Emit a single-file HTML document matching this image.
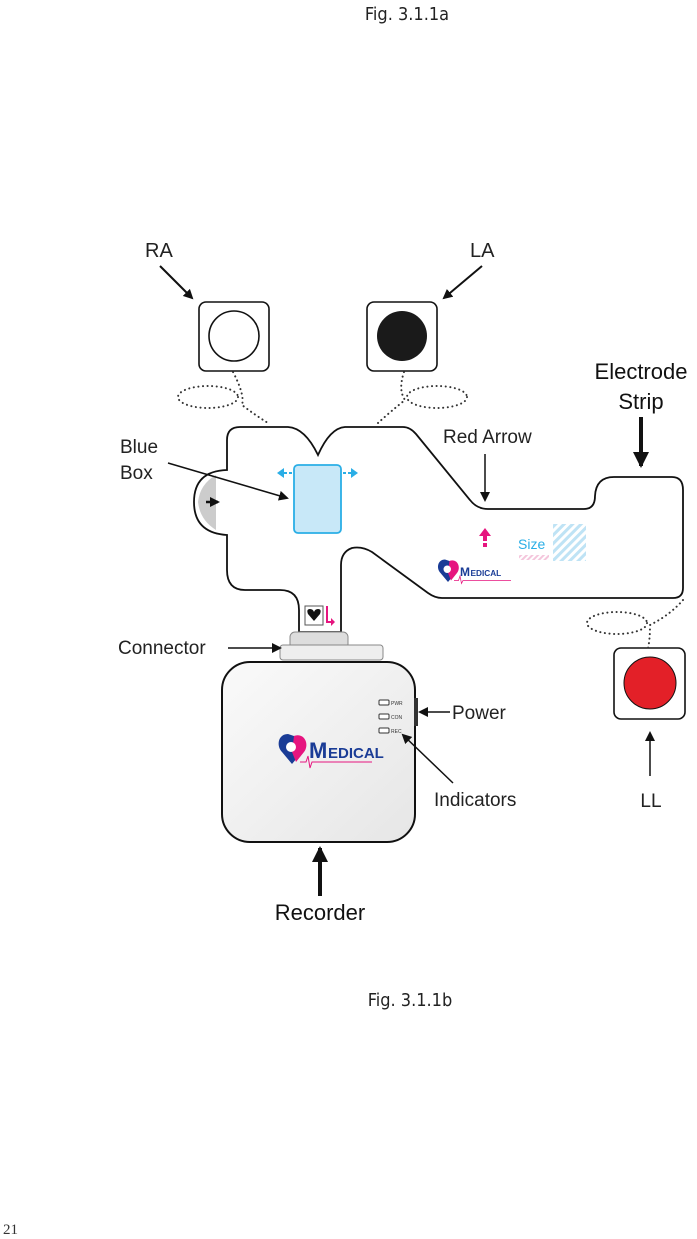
<!DOCTYPE html>
<html><head><meta charset="utf-8"><style>
html,body{margin:0;padding:0;background:#fff}
svg{display:block}
text{font-family:"Liberation Sans",sans-serif}
</style></head><body>
<svg width="697" height="1239" viewBox="0 0 697 1239" xmlns="http://www.w3.org/2000/svg">
<defs>
<marker id="ah" markerWidth="10" markerHeight="10" refX="8" refY="5" orient="auto" markerUnits="userSpaceOnUse"><path d="M0,0 L10,5 L0,10 Z" fill="#111"/></marker>
<marker id="ahb" markerWidth="16" markerHeight="16" refX="14" refY="8" orient="auto" markerUnits="userSpaceOnUse"><path d="M0,0 L16,8 L0,16 Z" fill="#111"/></marker>
<pattern id="hatch" width="6" height="6" patternUnits="userSpaceOnUse" patternTransform="rotate(45)"><rect width="3" height="6" fill="#bfe3f5"/></pattern>
<pattern id="hatchp" width="4" height="4" patternUnits="userSpaceOnUse" patternTransform="rotate(45)"><rect width="2" height="4" fill="#f4c6dc"/></pattern>
<linearGradient id="rg" x1="0" y1="0" x2="1" y2="1"><stop offset="0" stop-color="#fafafa"/><stop offset="1" stop-color="#e6e6e6"/></linearGradient>
</defs>
<text x="407" y="20" font-size="18" text-anchor="middle" fill="#222" style="font-family:'DejaVu Sans Condensed','Liberation Sans',sans-serif">Fig. 3.1.1a</text>
<text x="410" y="1006" font-size="18" text-anchor="middle" fill="#222" style="font-family:'DejaVu Sans Condensed','Liberation Sans',sans-serif">Fig. 3.1.1b</text>
<text x="3" y="1234" font-size="15" fill="#333" style="font-family:'Liberation Serif',serif">21</text>

<!-- electrodes -->
<rect x="199" y="302" width="70" height="69" rx="7" fill="#fff" stroke="#111" stroke-width="1.6"/>
<circle cx="234" cy="336" r="25" fill="#fff" stroke="#111" stroke-width="1.6"/>
<rect x="367" y="302" width="70" height="69" rx="7" fill="#fff" stroke="#111" stroke-width="1.6"/>
<circle cx="402" cy="336" r="25" fill="#1a1a1a"/>
<rect x="614" y="648" width="71" height="71" rx="7" fill="#fff" stroke="#111" stroke-width="1.6"/>
<circle cx="650" cy="683" r="26" fill="#e32028" stroke="#111" stroke-width="1"/>

<!-- dotted leads -->
<g fill="none" stroke="#333" stroke-width="2" stroke-dasharray="0.1 4.5" stroke-linecap="round">
<ellipse cx="208" cy="397" rx="30" ry="11"/>
<path d="M233,372 Q245,395 242,405 Q255,415 268,423"/>
<ellipse cx="437" cy="397" rx="30" ry="11"/>
<path d="M404,372 Q398,390 405,400 Q390,412 378,423"/>
<ellipse cx="617" cy="623" rx="30" ry="11"/>
<path d="M683,600 Q670,615 650,625 Q650,640 648,648"/>
</g>

<!-- strip outline -->
<path d="M227,440 Q227,427 240,427 L288,427 Q305,428 318,455 Q330,428 345,427 L403,427 Q410,427 416,434 L470,500 Q477,509 488,509 L584,509 Q595,509 595,496 Q596,477 614,477 L672,477 Q683,477 683,490 L683,588 Q683,598 673,598 L442,598 Q435,598 428,593 L372,552 Q362,546 352,548 Q341,552 341,565 L341,632 L299,632 L299,610 Q299,590 280,590 L245,590 Q227,590 227,570 L227,535 Q194,533 194,502 Q194,471 227,470 Z" fill="#fff" stroke="#111" stroke-width="1.8"/>
<path d="M216,475 L216,530 Q200,520 198,502 Q200,484 216,475 Z" fill="#ccc"/>
<line x1="206" y1="502" x2="218" y2="502" stroke="#111" stroke-width="2.5" marker-end="url(#ah)"/>

<!-- blue box -->
<rect x="294" y="465" width="47" height="68" rx="4" fill="#c8e8f8" stroke="#2aaee6" stroke-width="1.8"/>
<line x1="292" y1="473" x2="280" y2="473" stroke="#2aaee6" stroke-width="2" stroke-dasharray="3 2"/>
<path d="M277,473 L284,468 L284,478 Z" fill="#2aaee6"/>
<line x1="343" y1="473" x2="355" y2="473" stroke="#2aaee6" stroke-width="2" stroke-dasharray="3 2"/>
<path d="M358,473 L351,468 L351,478 Z" fill="#2aaee6"/>

<!-- pink arrow, size -->
<path d="M485,528 L479,536 L483,536 L483,541 L487,541 L487,536 L491,536 Z" fill="#e6157f"/>
<rect x="483" y="543" width="4" height="4" fill="#e6157f"/>
<text x="518" y="549" font-size="14" fill="#2aaee6">Size</text>
<rect x="553" y="524" width="33" height="37" fill="url(#hatch)"/>
<rect x="519" y="555" width="30" height="5" fill="url(#hatchp)"/>

<!-- small logo on strip -->
<g transform="translate(436,558) scale(0.75)">
<path d="M12,2 C2,2 0,14 6,20 L16,32 L26,20 C30,14 28,2 18,4 Z" fill="#1a3c96"/>
<path d="M18,4 C28,0 34,12 28,20 L20,30 L16,20 Z" fill="#e6157f"/>
<circle cx="15" cy="15" r="5" fill="#fff"/>
<text x="32" y="24" font-size="16" font-weight="bold" fill="#1a3c96">M</text>
<text x="46" y="24" font-size="11" font-weight="bold" fill="#1a3c96">EDICAL</text>
<path d="M24,30 L30,30 L32,24 L34,34 L36,30 L100,30" fill="none" stroke="#e6157f" stroke-width="1"/>
</g>

<!-- heart icon -->
<rect x="305" y="606" width="18" height="19" fill="#fff" stroke="#555" stroke-width="1"/>
<path d="M314,621 L308,614 Q306,609 310,609 Q313,609 314,612 Q315,609 318,609 Q322,609 320,614 Z" fill="#111"/>
<path d="M327,606 L327,622 L333,622" fill="none" stroke="#e6157f" stroke-width="2"/>
<path d="M331,618 L335,622 L331,626 Z" fill="#e6157f"/>

<!-- connector -->
<rect x="290" y="632" width="58" height="17" rx="5" fill="#ddd" stroke="#888" stroke-width="1"/>
<rect x="280" y="645" width="103" height="15" rx="3" fill="#eee" stroke="#888" stroke-width="1"/>

<!-- recorder -->
<rect x="222" y="662" width="193" height="180" rx="28" fill="url(#rg)" stroke="#111" stroke-width="2"/>
<rect x="414" y="698" width="4" height="28" fill="#333"/>
<g font-size="5" fill="#333">
<rect x="379" y="700" width="10" height="5" rx="1" fill="#fff" stroke="#333"/><text x="391" y="705">PWR</text>
<rect x="379" y="714" width="10" height="5" rx="1" fill="#fff" stroke="#333"/><text x="391" y="719">CON</text>
<rect x="379" y="728" width="10" height="5" rx="1" fill="#fff" stroke="#333"/><text x="391" y="733">REC</text>
</g>
<g transform="translate(276,732)">
<path d="M12,2 C2,2 0,14 6,20 L16,32 L26,20 C30,14 28,2 18,4 Z" fill="#1a3c96"/>
<path d="M18,4 C28,0 34,12 28,20 L20,30 L16,20 Z" fill="#e6157f"/>
<circle cx="15" cy="15" r="5" fill="#fff"/>
<text x="33" y="26" font-size="22" font-weight="bold" fill="#1a3c96">M</text>
<text x="52" y="26" font-size="15" font-weight="bold" fill="#1a3c96">EDICAL</text>
<path d="M24,30 L30,30 L32,24 L34,36 L36,30 L96,30" fill="none" stroke="#e6157f" stroke-width="1"/>
</g>

<!-- labels (on top) -->
<text x="145" y="257" font-size="20" fill="#222">RA</text>
<text x="470" y="257" font-size="20" fill="#222">LA</text>
<line x1="160" y1="266" x2="192" y2="298" stroke="#111" stroke-width="2" marker-end="url(#ah)"/>
<line x1="482" y1="266" x2="444" y2="298" stroke="#111" stroke-width="2" marker-end="url(#ah)"/>
<text x="641" y="379" font-size="22" text-anchor="middle" fill="#111">Electrode</text>
<text x="641" y="409" font-size="22" text-anchor="middle" fill="#111">Strip</text>
<line x1="641" y1="417" x2="641" y2="466" stroke="#111" stroke-width="4" marker-end="url(#ahb)"/>
<text x="443" y="443" font-size="19" fill="#222">Red Arrow</text>
<line x1="485" y1="454" x2="485" y2="500" stroke="#111" stroke-width="1.5" marker-end="url(#ah)"/>
<text x="120" y="453" font-size="19" fill="#222">Blue</text>
<text x="120" y="479" font-size="19" fill="#222">Box</text>
<line x1="168" y1="463" x2="287" y2="498" stroke="#111" stroke-width="1.5" marker-end="url(#ah)"/>
<text x="118" y="654" font-size="19" fill="#222">Connector</text>
<line x1="228" y1="648" x2="280" y2="648" stroke="#111" stroke-width="1.5" marker-end="url(#ah)"/>
<text x="452" y="719" font-size="19" fill="#222">Power</text>
<line x1="450" y1="712" x2="420" y2="712" stroke="#111" stroke-width="1.5" marker-end="url(#ah)"/>
<text x="434" y="806" font-size="19" fill="#222">Indicators</text>
<line x1="453" y1="783" x2="403" y2="735" stroke="#111" stroke-width="1.5" marker-end="url(#ah)"/>
<text x="651" y="807" font-size="19" text-anchor="middle" fill="#222">LL</text>
<line x1="650" y1="776" x2="650" y2="733" stroke="#111" stroke-width="1.5" marker-end="url(#ah)"/>
<text x="320" y="920" font-size="22" text-anchor="middle" fill="#111">Recorder</text>
<line x1="320" y1="896" x2="320" y2="848" stroke="#111" stroke-width="4" marker-end="url(#ahb)"/>
</svg>
</body></html>
